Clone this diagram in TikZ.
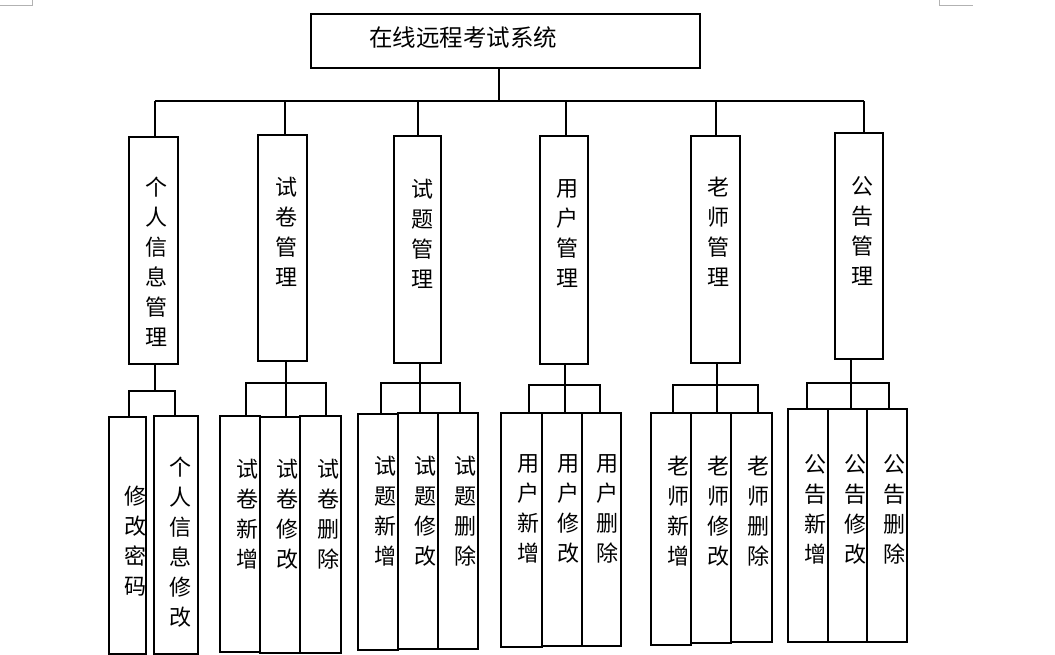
\documentclass[tikz,border=0pt]{standalone}
\usepackage{fontspec}
\newfontfamily\cjk{Noto Sans CJK SC}

\begin{document}
\begin{tikzpicture}[x=1pt,y=-1pt]
    \tikzstyle{every node}+=[inner sep=0pt]
    \tikzstyle{box}=[draw=black, line width=2pt, rectangle]
    \tikzstyle{vtext}=[anchor=north, align=center, font=\cjk\fontsize{22}{30}\selectfont]
    \useasboundingbox (0,0) rectangle (1055,655);
    % page corner marks
    \draw [gray!60, line width=0.8pt] (0,5) -- (32,5) -- (32,0);
    \draw [gray!60, line width=0.8pt] (939,0) -- (939,5) -- (973,5);
    % top box
    \node [box, minimum width=389pt, minimum height=54pt] (sys) at (505.5,41.5) {};
    \node [font=\cjk\fontsize{23.5}{28}\selectfont] (systext) at (463,38) {在线远程考试系统};
    % second level
    \node [box, minimum width=49pt, minimum height=227pt] (p1) at (153.5,250.5) {};
    \node [box, minimum width=49pt, minimum height=226pt] (p2) at (282.5,248) {};
    \node [box, minimum width=47pt, minimum height=227pt] (p3) at (417.5,249.5) {};
    \node [box, minimum width=48pt, minimum height=228pt] (p4) at (564,250) {};
    \node [box, minimum width=49pt, minimum height=227pt] (p5) at (715.5,249.5) {};
    \node [box, minimum width=48pt, minimum height=226pt] (p6) at (859,246) {};
    \node [vtext] (p1t) at (156,177) {个\\人\\信\\息\\管\\理};
    \node [vtext] (p2t) at (286,177) {试\\卷\\管\\理};
    \node [vtext] (p3t) at (422,179) {试\\题\\管\\理};
    \node [vtext] (p4t) at (567,179) {用\\户\\管\\理};
    \node [vtext] (p5t) at (718,177) {老\\师\\管\\理};
    \node [vtext] (p6t) at (862,176) {公\\告\\管\\理};
    % third level
    \node [box, minimum width=37pt, minimum height=237pt] (c11) at (127.5,535.5) {};
    \node [box, minimum width=44pt, minimum height=238pt] (c12) at (176,535) {};
    \node [box, minimum width=40pt, minimum height=236pt] (c21) at (240,534) {};
    \node [box, minimum width=40pt, minimum height=236pt] (c22) at (280,535) {};
    \node [box, minimum width=41pt, minimum height=237pt] (c23) at (320.5,534.5) {};
    \node [box, minimum width=40pt, minimum height=236pt] (c31) at (378,532) {};
    \node [box, minimum width=40pt, minimum height=236pt] (c32) at (418,531) {};
    \node [box, minimum width=40pt, minimum height=236pt] (c33) at (458,531) {};
    \node [box, minimum width=41pt, minimum height=234pt] (c41) at (521.5,530) {};
    \node [box, minimum width=40pt, minimum height=233pt] (c42) at (562,529.5) {};
    \node [box, minimum width=39pt, minimum height=233pt] (c43) at (601.5,529.5) {};
    \node [box, minimum width=40pt, minimum height=232pt] (c51) at (671,529) {};
    \node [box, minimum width=40pt, minimum height=230pt] (c52) at (711,528) {};
    \node [box, minimum width=41pt, minimum height=229pt] (c53) at (751.5,527.5) {};
    \node [box, minimum width=40pt, minimum height=233pt] (c61) at (808,525.5) {};
    \node [box, minimum width=39pt, minimum height=233pt] (c62) at (847.5,525.5) {};
    \node [box, minimum width=40pt, minimum height=233pt] (c63) at (887,525.5) {};
    \node [vtext] (c11t) at (135,486) {修\\改\\密\\码};
    \node [vtext] (c12t) at (180,457) {个\\人\\信\\息\\修\\改};
    \node [vtext] (c21t) at (247,459) {试\\卷\\新\\增};
    \node [vtext] (c22t) at (287,459) {试\\卷\\修\\改};
    \node [vtext] (c23t) at (328,459) {试\\卷\\删\\除};
    \node [vtext] (c31t) at (385,456) {试\\题\\新\\增};
    \node [vtext] (c32t) at (425,456) {试\\题\\修\\改};
    \node [vtext] (c33t) at (465,456) {试\\题\\删\\除};
    \node [vtext] (c41t) at (528,454) {用\\户\\新\\增};
    \node [vtext] (c42t) at (568,454) {用\\户\\修\\改};
    \node [vtext] (c43t) at (607,454) {用\\户\\删\\除};
    \node [vtext] (c51t) at (678,456) {老\\师\\新\\增};
    \node [vtext] (c52t) at (718,456) {老\\师\\修\\改};
    \node [vtext] (c53t) at (758,456) {老\\师\\删\\除};
    \node [vtext] (c61t) at (815,454) {公\\告\\新\\增};
    \node [vtext] (c62t) at (855,454) {公\\告\\修\\改};
    \node [vtext] (c63t) at (894,454) {公\\告\\删\\除};
    % top bus
    \coordinate (bus) at (499,101);
    \draw [line width=2pt] ([xshift=-6.5pt]sys.south) -- (bus);
    \draw [line width=2pt] ([xshift=1.5pt]p1.north |- bus) -- ([xshift=5pt]p6.north |- bus);
    \draw [line width=2pt] ([xshift=1.5pt]p1.north) -- ([xshift=1.5pt]p1.north |- bus);
    \draw [line width=2pt] ([xshift=2.5pt]p2.north) -- ([xshift=2.5pt]p2.north |- bus);
    \draw [line width=2pt] (p3.north) -- (p3.north |- bus);
    \draw [line width=2pt] ([xshift=2pt]p4.north) -- ([xshift=2pt]p4.north |- bus);
    \draw [line width=2pt] (p5.north) -- (p5.north |- bus);
    \draw [line width=2pt] ([xshift=5pt]p6.north) -- ([xshift=5pt]p6.north |- bus);
    % group buses
    \coordinate (j1) at (155,391);
    \coordinate (j2) at (286,383);
    \coordinate (j3) at (420,383);
    \coordinate (j4) at (565,385);
    \coordinate (j5) at (717,385);
    \coordinate (j6) at (851,383);
    \draw [line width=2pt] (p1.south -| j1) -- (j1);
    \draw [line width=2pt] ([xshift=1.5pt]c11.north) |- ([xshift=-1pt]c12.north |- j1) -- ([xshift=-1pt]c12.north);
    \draw [line width=2pt] (p2.south -| j2) -- (j2) -- ([xshift=6pt]c22.north);
    \draw [line width=2pt] ([xshift=6pt]c21.north) |- ([xshift=5.5pt]c23.north |- j2) -- ([xshift=5.5pt]c23.north);
    \draw [line width=2pt] (p3.south -| j3) -- (j3) -- ([xshift=2pt]c32.north);
    \draw [line width=2pt] ([xshift=3pt]c31.north) |- ([xshift=2pt]c33.north |- j3) -- ([xshift=2pt]c33.north);
    \draw [line width=2pt] (p4.south -| j4) -- (j4) -- ([xshift=3pt]c42.north);
    \draw [line width=2pt] ([xshift=7.5pt]c41.north) |- ([xshift=-1.5pt]c43.north |- j4) -- ([xshift=-1.5pt]c43.north);
    \draw [line width=2pt] (p5.south -| j5) -- (j5) -- ([xshift=6pt]c52.north);
    \draw [line width=2pt] ([xshift=2pt]c51.north) |- ([xshift=6.5pt]c53.north |- j5) -- ([xshift=6.5pt]c53.north);
    \draw [line width=2pt] (p6.south -| j6) -- (j6) -- ([xshift=3.5pt]c62.north);
    \draw [line width=2pt] ([xshift=-1pt]c61.north) |- ([xshift=2pt]c63.north |- j6) -- ([xshift=2pt]c63.north);
\end{tikzpicture}
\end{document}
